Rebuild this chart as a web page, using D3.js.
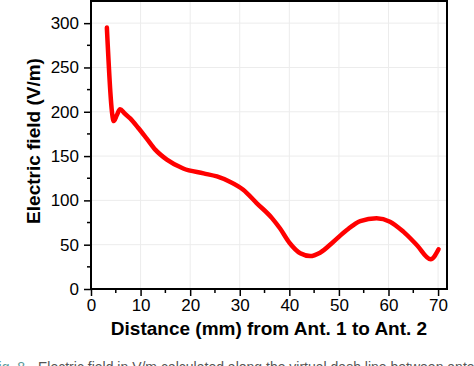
<!DOCTYPE html>
<html><head><meta charset="utf-8">
<script src="https://cdn.jsdelivr.net/npm/d3@7"></script>
<style>
html,body{margin:0;padding:0;background:#fff;overflow:hidden;}
svg{display:block;font-family:"Liberation Sans",Arial,sans-serif;}
</style></head>
<body>
<svg id="chart" width="474" height="366"></svg>
<script>
const distance = [3.2, 4.6, 5.2, 5.85, 6.8, 7.9, 9.5, 11.2, 13.0, 15.3, 18.6, 22.7, 25.4, 28.0, 30.7, 33.4, 36.5, 38.1, 40.1, 42.2, 44.2, 46.2, 48.9, 51.6, 54.3, 57.6, 60.3, 63.0, 65.7, 68.5, 70.1];
const field    = [295, 189.5, 196, 202.8, 198, 192.5, 182, 170, 157, 146, 136, 130.5, 127, 121, 112, 97, 80, 68.5, 51.6, 40.3, 37.2, 41, 53.4, 66.6, 76.7, 79.8, 76, 64.7, 49.7, 33.5, 44.8];
const xTicks = [0, 10, 20, 30, 40, 50, 60, 70];
const yTicks = [0, 50, 100, 150, 200, 250, 300];
const xMinor = [5, 15, 25, 35, 45, 55, 65];
const yMinor = [25, 75, 125, 175, 225, 275, 325];
const xTitle = "Distance (mm) from Ant. 1 to Ant. 2";
const yTitle = "Electric field (V/m)";

const L = 91, R = 447, T = 1, B = 289;
const svg = d3.select("#chart");
const x = d3.scaleLinear().domain([0, 71.8]).range([L, R]);
const y = d3.scaleLinear().domain([0, 325]).range([B, T]);

// grid
svg.append("g").selectAll("line").data(xTicks.slice(1)).join("line")
  .attr("x1", d => x(d)).attr("x2", d => x(d)).attr("y1", T).attr("y2", B)
  .attr("stroke", "#ececec").attr("stroke-width", 1);
svg.append("g").selectAll("line").data(yTicks.slice(1)).join("line")
  .attr("y1", d => y(d)).attr("y2", d => y(d)).attr("x1", L).attr("x2", R)
  .attr("stroke", "#ececec").attr("stroke-width", 1);

// minor ticks
svg.append("g").selectAll("line").data(xMinor).join("line")
  .attr("x1", d => x(d)).attr("x2", d => x(d)).attr("y1", B).attr("y2", B + 4)
  .attr("stroke", "#000").attr("stroke-width", 1.5);
svg.append("g").selectAll("line").data(yMinor.filter(v => v < 325)).join("line")
  .attr("y1", d => y(d)).attr("y2", d => y(d)).attr("x1", L).attr("x2", L - 4)
  .attr("stroke", "#000").attr("stroke-width", 1.5);

// axes
const xAxis = d3.axisBottom(x).tickValues(xTicks).tickSize(7).tickPadding(3);
const yAxis = d3.axisLeft(y).tickValues(yTicks).tickSize(7).tickPadding(5);
const gx = svg.append("g").attr("transform", `translate(0,${B})`).call(xAxis);
const gy = svg.append("g").attr("transform", `translate(${L},0)`).call(yAxis);
[gx, gy].forEach(g => {
  g.select(".domain").remove();
  g.selectAll(".tick line").attr("stroke", "#000").attr("stroke-width", 1.5);
  g.selectAll(".tick text").attr("fill", "#000").style("font-size", "17px")
   .style("font-family", "'Liberation Sans', Arial, sans-serif");
});

// frame
svg.append("rect").attr("x", L).attr("y", T).attr("width", R - L).attr("height", B - T)
  .attr("fill", "none").attr("stroke", "#000").attr("stroke-width", 2);

// line
const line = d3.line().x((d, i) => x(distance[i])).y(d => y(d)).curve(d3.curveMonotoneX);
svg.append("path").datum(field).attr("d", line)
  .attr("fill", "none").attr("stroke", "#ff0000").attr("stroke-width", 4.5)
  .attr("stroke-linejoin", "round").attr("stroke-linecap", "round");

// titles
svg.append("text").attr("x", (L + R) / 2).attr("y", 335).attr("text-anchor", "middle")
  .style("font-size", "19px").style("font-weight", "bold").text(xTitle);
svg.append("text").attr("transform", "translate(40,141) rotate(-90)").attr("text-anchor", "middle")
  .style("font-size", "19px").style("font-weight", "bold").text(yTitle);

// caption (cropped)
svg.append("text").attr("x", 25).attr("y", 372).attr("text-anchor", "end")
  .style("font-size", "14px").attr("fill", "#5a9a9a").text("Fig. 8");
svg.append("text").attr("x", 38).attr("y", 372)
  .style("font-size", "14px").attr("fill", "#555").text("Electric field in V/m calculated along the virtual dash line between antennas");
</script>
</body></html>
